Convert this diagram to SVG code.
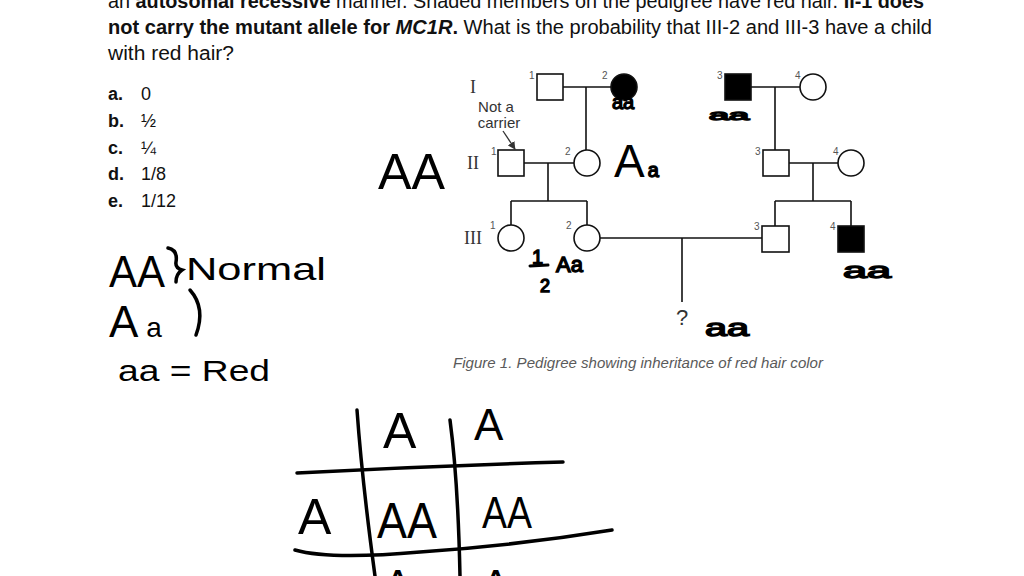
<svg xmlns="http://www.w3.org/2000/svg" width="1024" height="576" viewBox="0 0 1024 576">
<style>
.q{font-family:"Liberation Sans",Arial,sans-serif;font-size:20px;fill:#111}
.b{font-weight:bold}
.ans{font-family:"Liberation Sans",Arial,sans-serif;font-size:18px;fill:#111}
.gen{font-family:"Liberation Serif","Times New Roman",serif;font-size:18px;fill:#333}
.num{font-family:"Liberation Sans",Arial,sans-serif;font-size:10px;fill:#555}
.lbl{font-family:"Liberation Sans",Arial,sans-serif;font-size:15px;fill:#333}
.cap{font-family:"Liberation Sans",Arial,sans-serif;font-size:14px;font-style:italic;fill:#5a5a5a}
.ln{stroke:#111;stroke-width:1.6;fill:none}
.m{stroke:#111;stroke-width:1.6;fill:#fff}
.f{stroke:#111;stroke-width:1.6;fill:#000}
.hw{font-family:"Liberation Sans",Arial,sans-serif;fill:#000}
.hb{stroke:#000;stroke-width:1.4}
.pen{stroke:#000;stroke-width:3.5;fill:none;stroke-linecap:round}
</style>
<defs>
<marker id="ah" viewBox="0 0 10 10" refX="9" refY="5" markerWidth="6" markerHeight="6" orient="auto"><path d="M0,0 L10,5 L0,10 z" fill="#333"/></marker>
</defs>
<rect width="1024" height="576" fill="#fff"/>
<g id="question">
<text class="q" x="108" y="8" textLength="816" lengthAdjust="spacingAndGlyphs">an <tspan class="b">autosomal recessive</tspan> manner. Shaded members on the pedigree have red hair. <tspan class="b">II-1 does</tspan></text>
<text class="q" x="108" y="34" textLength="824" lengthAdjust="spacingAndGlyphs"><tspan class="b">not carry the mutant allele for <tspan font-style="italic">MC1R</tspan>.</tspan> What is the probability that III-2 and III-3 have a child</text>
<text class="q" x="108" y="60" textLength="126" lengthAdjust="spacingAndGlyphs">with red hair?</text>
</g>
<g id="answers" class="ans">
<text x="108" y="100"><tspan class="b">a.</tspan><tspan x="141">0</tspan></text>
<text x="108" y="127"><tspan class="b">b.</tspan><tspan x="141">½</tspan></text>
<text x="108" y="154"><tspan class="b">c.</tspan><tspan x="141">¼</tspan></text>
<text x="108" y="180"><tspan class="b">d.</tspan><tspan x="141">1/8</tspan></text>
<text x="108" y="207"><tspan class="b">e.</tspan><tspan x="141">1/12</tspan></text>
</g>
<g id="generation-labels" class="gen" text-anchor="middle">
<text x="473" y="93">I</text>
<text x="473" y="169">II</text>
<text x="473" y="244">III</text>
</g>
<g id="connectors" class="ln">
<line x1="563" y1="87" x2="611" y2="87"/>
<line x1="586" y1="87" x2="586" y2="150"/>
<line x1="751" y1="87" x2="800" y2="87"/>
<line x1="775" y1="87" x2="775" y2="150"/>
<line x1="524" y1="163" x2="574" y2="163"/>
<line x1="548" y1="163" x2="548" y2="201"/>
<line x1="511" y1="201" x2="587" y2="201"/>
<line x1="511" y1="201" x2="511" y2="225"/>
<line x1="587" y1="201" x2="587" y2="225"/>
<line x1="789" y1="163" x2="838" y2="163"/>
<line x1="813" y1="163" x2="813" y2="201"/>
<line x1="775" y1="201" x2="851" y2="201"/>
<line x1="775" y1="201" x2="775" y2="226"/>
<line x1="851" y1="201" x2="851" y2="226"/>
<line x1="600" y1="238" x2="762" y2="238"/>
<line x1="682" y1="238" x2="682" y2="302"/>
<line x1="503" y1="131" x2="515" y2="149" stroke="#333" stroke-width="1.3" marker-end="url(#ah)"/>
</g>
<g id="I-1"><rect class="m" x="537" y="74" width="26" height="26"/><text class="num" x="529" y="79">1</text></g>
<g id="I-2"><circle class="f" cx="624" cy="87" r="13"/><text class="num" x="602" y="79">2</text></g>
<g id="I-3"><rect class="f" x="725" y="74" width="26" height="26"/><text class="num" x="717" y="79">3</text></g>
<g id="I-4"><circle class="m" cx="813" cy="87" r="13"/><text class="num" x="795" y="79">4</text></g>
<g id="II-1"><rect class="m" x="498" y="150" width="26" height="26"/><text class="num" x="491" y="155">1</text>
<text class="lbl" x="496" y="112" text-anchor="middle">Not a</text><text class="lbl" x="499" y="128" text-anchor="middle">carrier</text></g>
<g id="II-2"><circle class="m" cx="587" cy="163" r="13"/><text class="num" x="565" y="155">2</text></g>
<g id="II-3"><rect class="m" x="763" y="150" width="26" height="26"/><text class="num" x="755" y="155">3</text></g>
<g id="II-4"><circle class="m" cx="851" cy="163" r="13"/><text class="num" x="833" y="155">4</text></g>
<g id="III-1"><circle class="m" cx="511" cy="238" r="13"/><text class="num" x="490" y="229">1</text></g>
<g id="III-2"><circle class="m" cx="587" cy="238" r="13"/><text class="num" x="566" y="229">2</text></g>
<g id="III-3"><rect class="m" x="762" y="226" width="27" height="26"/><text class="num" x="754" y="230">3</text></g>
<g id="III-4"><rect class="f" x="838" y="226" width="26" height="26"/><text class="num" x="830" y="230">4</text></g>
<g id="child"><text x="682" y="325" text-anchor="middle" font-family="Liberation Sans,Arial,sans-serif" font-size="22" fill="#333">?</text></g>
<text class="cap" x="453" y="368" textLength="370" lengthAdjust="spacingAndGlyphs">Figure 1. Pedigree showing inheritance of red hair color</text>
<g id="handwriting" class="hw">
<text x="378" y="189" font-size="50" textLength="67" lengthAdjust="spacingAndGlyphs">AA</text>
<text x="614" y="177" font-size="46">A<tspan class="hb" font-size="20" dx="3">a</tspan></text>
<text class="hb" x="612" y="109" font-size="20">aa</text>
<text class="hb" x="709" y="120" font-size="15" textLength="40" lengthAdjust="spacingAndGlyphs">aa</text>
<text class="hb" x="532" y="264" font-size="20">1</text>
<text class="hb" x="540" y="292" font-size="18">2</text>
<text class="hb" x="556" y="272" font-size="22">Aa</text>
<text class="hb" x="843" y="278" font-size="22" textLength="48" lengthAdjust="spacingAndGlyphs">aa</text>
<text class="hb" x="705" y="336" font-size="24" textLength="44" lengthAdjust="spacingAndGlyphs">aa</text>
<text x="109" y="287" font-size="44" textLength="56" lengthAdjust="spacingAndGlyphs">AA</text>
<text x="186" y="280" font-size="32" textLength="140" lengthAdjust="spacingAndGlyphs">Normal</text>
<text x="109" y="337" font-size="44">A<tspan font-size="28" dx="8">a</tspan></text>
<text x="118" y="381" font-size="30" textLength="152" lengthAdjust="spacingAndGlyphs">aa = Red</text>
<text x="383" y="448" font-size="50">A</text>
<text x="474" y="440" font-size="44">A</text>
<text x="298" y="534" font-size="50">A</text>
<text x="377" y="538" font-size="50" textLength="60" lengthAdjust="spacingAndGlyphs">AA</text>
<text x="482" y="528" font-size="44" textLength="50" lengthAdjust="spacingAndGlyphs">AA</text>
<text x="383" y="601" font-size="44">A</text>
<text x="481" y="601" font-size="44">A</text>
</g>
<g id="punnett" class="pen">
<path d="M357,410 Q362,480 375,576"/>
<path d="M450,420 Q458,480 460,576"/>
<path d="M297,473 Q430,466 563,462"/>
<path d="M295,550 Q330,560 420,552 Q520,545 612,530"/>
<path d="M168,248 Q178,250 176,262 Q175,268 182,270 Q176,274 176,282"/>
<path d="M190,290 Q206,308 196,335"/>
<path d="M530,266 L548,265" stroke-width="3"/>
</g>
</svg>
